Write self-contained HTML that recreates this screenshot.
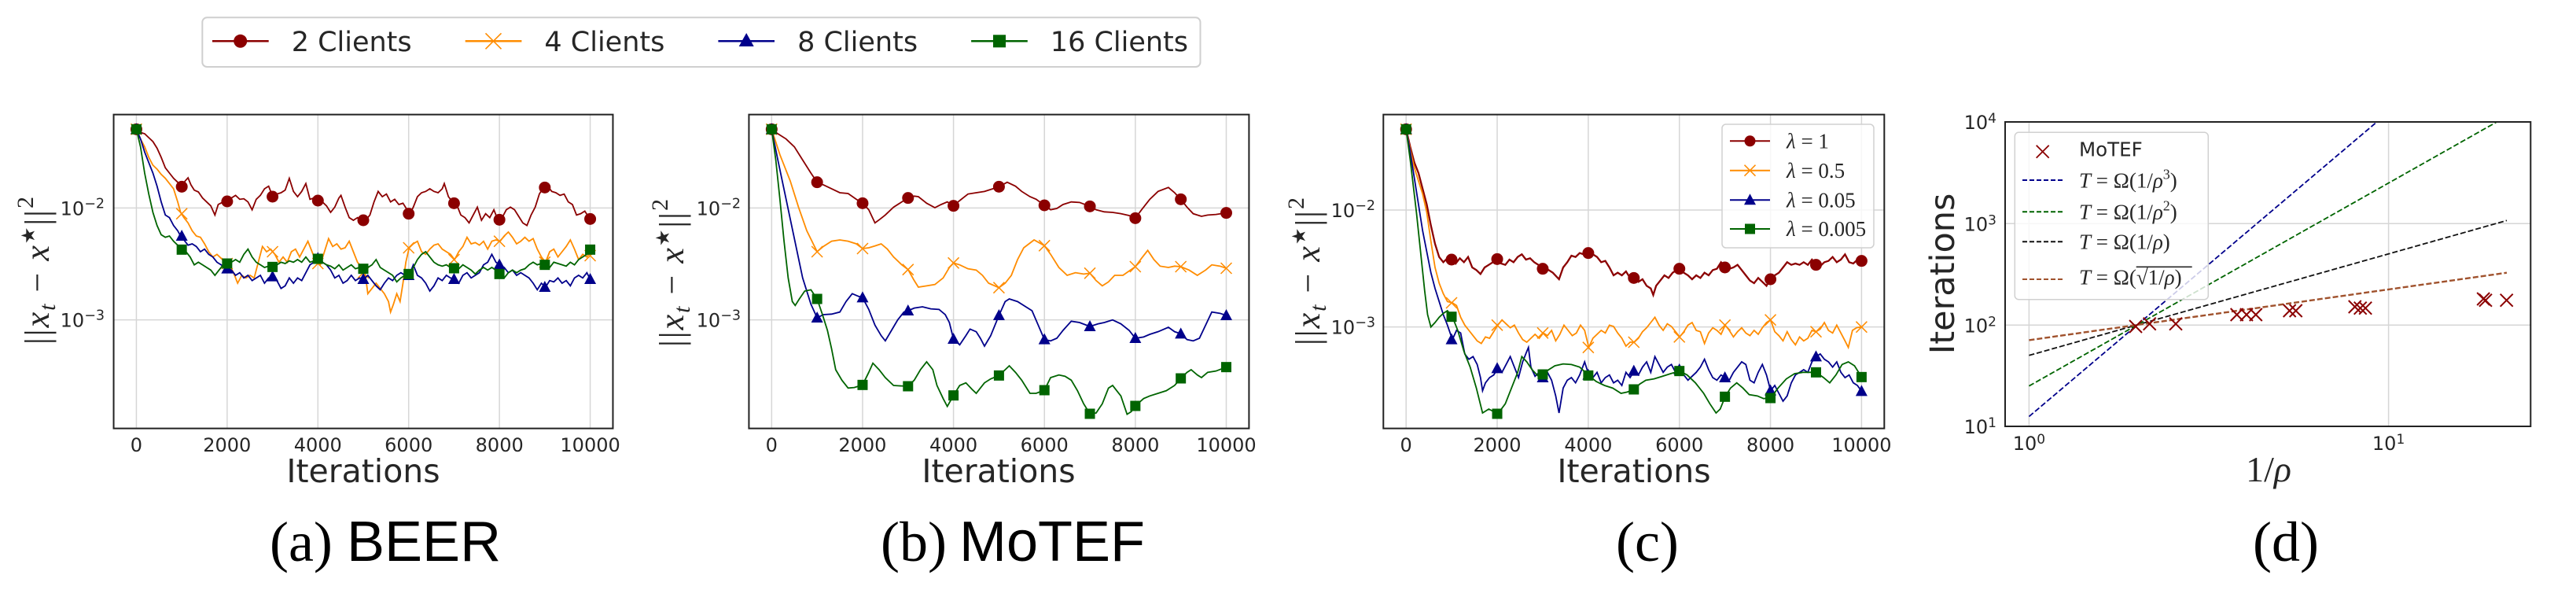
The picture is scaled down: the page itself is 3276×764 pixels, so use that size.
<!DOCTYPE html>
<html><head><meta charset="utf-8">
<style>
html,body{margin:0;padding:0;background:#fff;}
svg{display:block}
.nss polyline,.nss line,.nss rect,.nss path,.nss use{vector-effect:non-scaling-stroke}
.tk{font-family:"DejaVu Sans","Liberation Sans",sans-serif;font-size:24px;fill:#262626}
.lb{font-family:"DejaVu Sans","Liberation Sans",sans-serif;font-size:41px;fill:#262626}
.mt{font-family:"Liberation Serif","DejaVu Serif",serif;fill:#262626}
</style></head>
<body>
<svg width="3276" height="764" viewBox="0 0 3276 764" xmlns="http://www.w3.org/2000/svg">
<defs>
<ellipse id="mc" cx="0" cy="0" rx="14.27" ry="22.5"/>
<rect id="ms" x="-12.37" y="-19.5" width="24.73" height="39"/>
<path id="mt" d="M0,-24 L14.3,18 L-14.3,18Z"/>
<path id="mx" d="M-13.3,-21 L13.3,21 M-13.3,21 L13.3,-21" fill="none" style="vector-effect:non-scaling-stroke"/>
</defs>
<rect x="0" y="0" width="3276" height="764" fill="#fff"/>

<!-- TOP LEGEND -->
<rect x="257.3" y="22.3" width="1269.2" height="62.7" rx="6" fill="#fff" stroke="#cfcfcf" stroke-width="2"/>
<line x1="270" y1="52.3" x2="341.7" y2="52.3" stroke="#8B0000" stroke-width="2.5"/>
<circle cx="305.7" cy="52.3" r="8.5" fill="#8B0000"/>
<text x="370.7" y="65" font-family="DejaVu Sans, Liberation Sans, sans-serif" font-size="35" fill="#262626">2 Clients</text>
<line x1="591.7" y1="52.3" x2="663.4" y2="52.3" stroke="#FF8C00" stroke-width="2.5"/>
<path d="M617.5,42.3 L637.5,62.3 M617.5,62.3 L637.5,42.3" stroke="#FF8C00" stroke-width="1.6"/>
<text x="692.4" y="65" font-family="DejaVu Sans, Liberation Sans, sans-serif" font-size="35" fill="#262626">4 Clients</text>
<line x1="913.4" y1="52.3" x2="985" y2="52.3" stroke="#00008B" stroke-width="2.5"/>
<path d="M949.2,42 L958.7,59 L939.7,59Z" fill="#00008B"/>
<text x="1014.1" y="65" font-family="DejaVu Sans, Liberation Sans, sans-serif" font-size="35" fill="#262626">8 Clients</text>
<line x1="1235.1" y1="52.3" x2="1306.8" y2="52.3" stroke="#006400" stroke-width="2.5"/>
<rect x="1263" y="44.3" width="16" height="16" fill="#006400"/>
<text x="1335.8" y="65" font-family="DejaVu Sans, Liberation Sans, sans-serif" font-size="35" fill="#262626">16 Clients</text>

<!-- ================= PANEL A ================= -->
<g class="nss" transform="translate(0,120) scale(0.5256,0.33333)">
<g stroke="#d6d6d6" stroke-width="1.5">
<line x1="330" y1="77" x2="330" y2="1274"/><line x1="549.6" y1="77" x2="549.6" y2="1274"/><line x1="769.2" y1="77" x2="769.2" y2="1274"/><line x1="988.8" y1="77" x2="988.8" y2="1274"/><line x1="1208.4" y1="77" x2="1208.4" y2="1274"/><line x1="1428" y1="77" x2="1428" y2="1274"/>
<line x1="275" y1="433" x2="1483" y2="433"/><line x1="275" y1="860" x2="1483" y2="860"/>
</g>
<polyline fill="none" stroke="#8B0000" stroke-width="1.8" points="330,133 340,145 350,150 360,165 370,180 380,205 390,240 400,280 410,300 420,320 430,335 440,352 448,330 455,318 462,345 470,365 480,372 490,395 500,410 510,425 520,460 528,420 540,410 550,408 560,395 570,385 580,400 590,398 600,410 610,440 620,400 630,385 640,360 650,350 660,390 670,380 680,375 690,365 700,320 710,370 720,390 730,370 740,340 750,400 760,395 770,405 780,410 790,425 800,450 810,430 820,395 825,385 835,430 845,470 855,480 865,470 875,490 885,480 895,460 905,410 915,370 925,390 935,380 945,410 955,400 965,420 975,415 985,440 992,455 1000,430 1010,390 1020,375 1030,370 1040,360 1050,370 1060,375 1070,360 1075,340 1085,390 1095,410 1105,420 1115,460 1125,470 1135,490 1145,460 1155,430 1165,480 1175,455 1185,470 1195,440 1205,480 1215,470 1225,440 1235,430 1245,440 1255,465 1265,490 1275,500 1285,460 1295,430 1305,380 1315,355 1325,350 1335,370 1345,375 1355,385 1365,380 1375,410 1385,420 1395,460 1405,455 1415,445 1425,470 1430,475"/>
<g fill="#8B0000"><use href="#mc" x="330" y="133"/><use href="#mc" x="439.8" y="352"/><use href="#mc" x="549.6" y="408"/><use href="#mc" x="659.4" y="390"/><use href="#mc" x="769.2" y="405"/><use href="#mc" x="879" y="480"/><use href="#mc" x="988.8" y="455"/><use href="#mc" x="1098.6" y="415"/><use href="#mc" x="1208.4" y="478"/><use href="#mc" x="1318.2" y="355"/><use href="#mc" x="1428" y="475"/></g>
<polyline fill="none" stroke="#FF8C00" stroke-width="1.8" points="330,133 340,170 350,200 360,240 370,270 380,285 390,305 400,320 410,340 420,360 430,410 437,450 445,470 455,490 465,520 475,540 485,545 495,570 505,600 515,620 525,610 535,625 545,640 555,650 565,680 575,720 585,690 595,700 605,690 615,700 625,640 635,580 645,600 655,590 665,610 675,640 685,620 695,640 705,600 715,590 725,620 735,590 745,560 755,600 765,640 775,650 785,600 795,550 805,580 815,570 825,590 835,585 845,560 855,600 865,640 875,660 885,700 890,760 900,740 910,720 920,740 930,760 940,790 945,830 952,800 960,760 968,790 975,720 982,640 990,585 1000,570 1010,560 1020,600 1030,610 1040,590 1050,575 1060,570 1070,590 1080,600 1090,610 1100,630 1110,600 1120,580 1130,545 1140,570 1150,565 1160,575 1170,560 1180,590 1190,560 1200,555 1210,560 1220,540 1230,525 1240,545 1250,570 1260,560 1270,545 1280,560 1290,550 1300,590 1310,620 1320,640 1330,600 1340,590 1350,620 1360,600 1370,580 1380,555 1390,590 1400,630 1410,610 1420,620 1430,600"/>
<g stroke="#FF8C00" stroke-width="1.5"><use href="#mx" x="330" y="133"/><use href="#mx" x="439.8" y="455"/><use href="#mx" x="549.6" y="645"/><use href="#mx" x="659.4" y="600"/><use href="#mx" x="769.2" y="645"/><use href="#mx" x="879" y="680"/><use href="#mx" x="988.8" y="585"/><use href="#mx" x="1098.6" y="630"/><use href="#mx" x="1208.4" y="560"/><use href="#mx" x="1318.2" y="640"/><use href="#mx" x="1428" y="615"/></g>
<polyline fill="none" stroke="#00008B" stroke-width="1.8" points="330,133 340,170 350,220 360,260 370,300 380,350 390,410 400,460 410,470 420,500 430,520 437,540 445,555 455,575 465,570 475,580 485,600 495,590 505,610 515,620 525,640 535,650 550,665 560,670 570,690 580,680 590,700 600,690 610,710 620,700 630,690 640,720 650,700 660,695 670,710 680,740 690,730 700,700 710,720 720,700 730,710 740,680 750,650 760,640 770,625 780,640 790,650 800,670 810,700 820,690 830,720 840,710 850,690 860,710 870,700 880,705 890,690 900,710 910,730 920,745 930,720 940,700 950,710 960,690 970,680 980,690 990,690 1000,650 1010,690 1020,700 1030,720 1040,750 1050,730 1060,700 1070,710 1080,690 1090,700 1100,705 1110,720 1120,690 1130,680 1140,700 1150,690 1160,680 1170,650 1180,640 1190,610 1200,640 1210,650 1220,660 1230,680 1240,670 1250,690 1260,680 1270,690 1280,700 1290,720 1300,745 1310,720 1320,735 1330,710 1340,715 1350,700 1360,720 1370,710 1380,730 1390,700 1400,690 1410,700 1420,680 1428,705"/>
<g fill="#00008B"><use href="#mt" x="330" y="133"/><use href="#mt" x="439.8" y="540"/><use href="#mt" x="549.6" y="665"/><use href="#mt" x="659.4" y="695"/><use href="#mt" x="769.2" y="625"/><use href="#mt" x="879" y="705"/><use href="#mt" x="988.8" y="690"/><use href="#mt" x="1098.6" y="705"/><use href="#mt" x="1208.4" y="650"/><use href="#mt" x="1318.2" y="735"/><use href="#mt" x="1428" y="705"/></g>
<polyline fill="none" stroke="#006400" stroke-width="1.8" points="330,133 340,200 350,300 360,380 370,450 380,500 390,535 400,545 410,540 420,560 430,575 438,592 450,600 460,620 470,650 480,640 490,650 500,660 510,670 520,690 530,670 540,650 550,645 560,640 570,630 580,640 590,610 600,590 610,620 620,640 630,650 640,660 650,655 660,658 670,650 680,640 690,645 700,635 710,640 720,630 730,640 740,620 750,640 760,635 770,627 780,640 790,650 800,655 810,665 820,650 830,670 840,660 850,650 860,665 870,660 880,665 890,660 900,650 910,630 920,660 930,670 940,680 950,690 960,715 970,700 980,690 990,685 1000,660 1010,630 1020,610 1030,600 1040,620 1050,640 1060,650 1070,655 1080,650 1090,660 1100,663 1110,665 1120,650 1130,660 1140,670 1150,685 1160,670 1170,660 1180,670 1190,660 1200,670 1210,685 1220,700 1230,680 1240,670 1250,680 1260,670 1270,665 1280,650 1290,640 1300,650 1310,645 1320,650 1330,660 1340,640 1350,645 1360,650 1370,655 1380,640 1390,650 1400,630 1410,620 1420,610 1430,592"/>
<g fill="#006400"><use href="#ms" x="330" y="133"/><use href="#ms" x="439.8" y="592"/><use href="#ms" x="549.6" y="645"/><use href="#ms" x="659.4" y="658"/><use href="#ms" x="769.2" y="627"/><use href="#ms" x="879" y="665"/><use href="#ms" x="988.8" y="685"/><use href="#ms" x="1098.6" y="663"/><use href="#ms" x="1208.4" y="685"/><use href="#ms" x="1318.2" y="650"/><use href="#ms" x="1428" y="592"/></g>
<rect x="275" y="77" width="1208" height="1197" fill="none" stroke="#222" stroke-width="2"/>
</g>
<g class="tk" text-anchor="middle">
<text x="173.4" y="574">0</text><text x="288.8" y="574">2000</text><text x="404.3" y="574">4000</text><text x="519.7" y="574">6000</text><text x="635.2" y="574">8000</text><text x="750.6" y="574">10000</text>
</g>
<g class="tk" text-anchor="end">
<text x="133" y="273.3">10<tspan font-size="17.5" dy="-9">−2</tspan></text>
<text x="133" y="415.7">10<tspan font-size="17.5" dy="-9">−3</tspan></text>
</g>
<text class="lb" x="462" y="613" text-anchor="middle">Iterations</text>
<text class="mt" transform="translate(62,343) rotate(-90)" text-anchor="middle" font-size="44" letter-spacing="2">||<tspan font-style="italic">x</tspan><tspan font-style="italic" font-size="30" dy="8">t</tspan><tspan dy="-8"> − </tspan><tspan font-style="italic">x</tspan><tspan font-size="24" dy="-18" font-family="DejaVu Sans, sans-serif">★</tspan><tspan dy="18">||</tspan><tspan font-size="30" dy="-20">2</tspan></text>

<!-- ================= PANEL B ================= -->
<g class="nss" transform="translate(800,120) scale(0.5256,0.33333)">
<g stroke="#d6d6d6" stroke-width="1.5">
<line x1="345" y1="77" x2="345" y2="1274"/><line x1="565" y1="77" x2="565" y2="1274"/><line x1="785" y1="77" x2="785" y2="1274"/><line x1="1005" y1="77" x2="1005" y2="1274"/><line x1="1225" y1="77" x2="1225" y2="1274"/><line x1="1445" y1="77" x2="1445" y2="1274"/>
<line x1="290" y1="433" x2="1500" y2="433"/><line x1="290" y1="860" x2="1500" y2="860"/>
</g>
<polyline fill="none" stroke="#8B0000" stroke-width="1.8" points="345,133 360,150 380,170 400,200 420,250 440,300 455,335 470,345 490,360 510,375 530,378 550,400 565,415 580,440 595,490 608,475 620,460 640,430 660,410 675,395 690,388 700,390 720,415 740,432 755,420 770,410 785,425 800,405 820,380 840,375 860,370 880,360 895,352 915,335 935,350 950,370 970,390 985,400 1005,423 1020,440 1035,435 1050,420 1070,410 1090,412 1115,427 1130,440 1150,448 1170,450 1190,455 1210,462 1225,472 1240,440 1260,400 1280,370 1305,355 1320,375 1335,400 1350,430 1365,455 1385,465 1400,460 1420,458 1445,452"/>
<g fill="#8B0000"><use href="#mc" x="345" y="133"/><use href="#mc" x="455" y="335"/><use href="#mc" x="565" y="415"/><use href="#mc" x="675" y="395"/><use href="#mc" x="785" y="425"/><use href="#mc" x="895" y="352"/><use href="#mc" x="1005" y="423"/><use href="#mc" x="1115" y="427"/><use href="#mc" x="1225" y="472"/><use href="#mc" x="1335" y="400"/><use href="#mc" x="1445" y="452"/></g>
<polyline fill="none" stroke="#FF8C00" stroke-width="1.8" points="345,133 365,230 390,330 410,430 430,520 455,600 470,580 490,560 510,555 530,560 550,570 565,588 580,585 595,578 610,570 625,590 640,620 660,650 675,668 690,710 700,735 720,730 740,725 760,700 775,660 785,643 800,650 820,665 840,670 855,690 870,720 895,737 910,720 925,690 940,630 955,585 980,555 1005,577 1020,610 1040,660 1060,690 1080,680 1100,685 1115,682 1130,710 1145,730 1160,715 1175,690 1195,690 1225,657 1240,625 1255,595 1270,630 1285,655 1305,660 1320,655 1335,657 1355,670 1375,690 1395,670 1410,650 1430,655 1445,663"/>
<g stroke="#FF8C00" stroke-width="1.5"><use href="#mx" x="345" y="133"/><use href="#mx" x="455" y="600"/><use href="#mx" x="565" y="588"/><use href="#mx" x="675" y="668"/><use href="#mx" x="785" y="643"/><use href="#mx" x="895" y="737"/><use href="#mx" x="1005" y="577"/><use href="#mx" x="1115" y="682"/><use href="#mx" x="1225" y="657"/><use href="#mx" x="1335" y="657"/><use href="#mx" x="1445" y="663"/></g>
<polyline fill="none" stroke="#00008B" stroke-width="1.8" points="345,133 360,250 380,400 400,550 420,700 440,800 455,852 470,840 490,838 510,830 525,790 540,760 555,770 565,775 580,820 595,880 610,920 620,940 635,900 650,860 665,830 675,825 690,815 710,810 730,818 750,820 765,840 775,870 785,933 800,955 815,920 825,895 840,905 850,930 860,960 875,920 895,843 910,790 920,780 940,790 960,810 975,825 990,880 1005,935 1020,940 1035,930 1050,900 1070,865 1090,870 1115,885 1135,875 1150,870 1170,860 1190,875 1210,900 1225,930 1245,925 1260,915 1280,905 1305,888 1320,905 1335,913 1350,935 1365,940 1380,930 1395,880 1410,830 1430,835 1445,843"/>
<g fill="#00008B"><use href="#mt" x="345" y="133"/><use href="#mt" x="455" y="852"/><use href="#mt" x="565" y="775"/><use href="#mt" x="675" y="825"/><use href="#mt" x="785" y="933"/><use href="#mt" x="895" y="843"/><use href="#mt" x="1005" y="935"/><use href="#mt" x="1115" y="885"/><use href="#mt" x="1225" y="930"/><use href="#mt" x="1335" y="913"/><use href="#mt" x="1445" y="843"/></g>
<polyline fill="none" stroke="#006400" stroke-width="1.8" points="345,133 355,250 365,400 375,560 385,700 395,790 402,805 412,780 425,750 440,745 455,780 468,840 480,900 490,970 500,1050 515,1090 530,1120 545,1118 565,1108 580,1060 590,1025 605,1050 620,1080 640,1110 660,1112 675,1113 690,1090 705,1050 720,1020 735,1050 745,1110 760,1160 770,1190 785,1148 800,1110 815,1100 830,1125 840,1140 850,1120 860,1100 875,1085 895,1072 910,1050 920,1035 935,1060 950,1090 970,1140 985,1140 1005,1128 1020,1080 1040,1070 1055,1075 1070,1090 1085,1130 1100,1180 1115,1218 1130,1215 1145,1180 1160,1120 1170,1110 1180,1130 1190,1150 1205,1220 1215,1210 1225,1188 1245,1160 1260,1150 1280,1140 1300,1130 1320,1110 1335,1083 1350,1060 1360,1050 1375,1070 1385,1080 1400,1060 1420,1055 1445,1040"/>
<g fill="#006400"><use href="#ms" x="345" y="133"/><use href="#ms" x="455" y="780"/><use href="#ms" x="565" y="1108"/><use href="#ms" x="675" y="1113"/><use href="#ms" x="785" y="1148"/><use href="#ms" x="895" y="1072"/><use href="#ms" x="1005" y="1128"/><use href="#ms" x="1115" y="1218"/><use href="#ms" x="1225" y="1188"/><use href="#ms" x="1335" y="1083"/><use href="#ms" x="1445" y="1040"/></g>
<rect x="290" y="77" width="1210" height="1197" fill="none" stroke="#222" stroke-width="2"/>
</g>
<g class="tk" text-anchor="middle">
<text x="981.3" y="574">0</text><text x="1096.9" y="574">2000</text><text x="1212.6" y="574">4000</text><text x="1328.2" y="574">6000</text><text x="1443.9" y="574">8000</text><text x="1559.5" y="574">10000</text>
</g>
<g class="tk" text-anchor="end">
<text x="942" y="273.3">10<tspan font-size="17.5" dy="-9">−2</tspan></text>
<text x="942" y="415.7">10<tspan font-size="17.5" dy="-9">−3</tspan></text>
</g>
<text class="lb" x="1270" y="613" text-anchor="middle">Iterations</text>
<text class="mt" transform="translate(869,346) rotate(-90)" text-anchor="middle" font-size="44" letter-spacing="2">||<tspan font-style="italic">x</tspan><tspan font-style="italic" font-size="30" dy="8">t</tspan><tspan dy="-8"> − </tspan><tspan font-style="italic">x</tspan><tspan font-size="24" dy="-18" font-family="DejaVu Sans, sans-serif">★</tspan><tspan dy="18">||</tspan><tspan font-size="30" dy="-20">2</tspan></text>

<!-- ================= PANEL C ================= -->
<g class="nss" transform="translate(1620,120) scale(0.5256,0.33333)">
<g stroke="#d6d6d6" stroke-width="1.5">
<line x1="320" y1="77" x2="320" y2="1274"/><line x1="540.4" y1="77" x2="540.4" y2="1274"/><line x1="760.8" y1="77" x2="760.8" y2="1274"/><line x1="981.2" y1="77" x2="981.2" y2="1274"/><line x1="1201.6" y1="77" x2="1201.6" y2="1274"/><line x1="1422" y1="77" x2="1422" y2="1274"/>
<line x1="265" y1="441" x2="1477" y2="441"/><line x1="265" y1="887" x2="1477" y2="887"/>
</g>
<polyline fill="none" stroke="#8B0000" stroke-width="2.3" points="320,133 330,200 340,260 350,300 360,360 370,420 380,500 390,570 400,620 410,640 420,625 432,630 440,645 450,625 460,640 470,620 480,660 490,670 500,685 510,660 520,650 530,640 540,628 550,645 560,650 570,630 580,640 590,620 600,610 610,630 620,625 630,640 640,650 653,665 665,670 675,680 690,705 700,660 710,640 720,615 730,620 740,605 750,610 762,600 772,610 782,620 792,640 802,635 812,660 822,690 832,680 842,690 852,675 862,700 872,700 882,715 892,705 902,730 912,740 918,765 925,730 935,710 945,690 955,700 965,680 975,670 982,665 992,680 1002,690 1012,705 1022,690 1032,700 1042,680 1052,690 1062,670 1072,665 1082,640 1092,660 1102,665 1112,660 1122,650 1132,670 1142,690 1152,710 1162,720 1172,700 1182,715 1192,730 1202,700 1212,690 1222,680 1232,660 1242,640 1252,650 1262,645 1272,650 1282,640 1292,650 1302,630 1312,650 1322,655 1332,640 1342,635 1352,620 1362,640 1372,630 1382,610 1392,640 1402,645 1412,630 1422,635"/>
<g fill="#8B0000"><use href="#mc" x="320" y="133"/><use href="#mc" x="430" y="630"/><use href="#mc" x="540.4" y="628"/><use href="#mc" x="650.6" y="665"/><use href="#mc" x="760.8" y="605"/><use href="#mc" x="871" y="700"/><use href="#mc" x="981.2" y="665"/><use href="#mc" x="1091.4" y="660"/><use href="#mc" x="1201.6" y="705"/><use href="#mc" x="1311.8" y="650"/><use href="#mc" x="1422" y="635"/></g>
<polyline fill="none" stroke="#FF8C00" stroke-width="1.8" points="320,133 330,210 340,280 350,330 360,380 370,450 380,560 390,660 400,720 410,760 420,790 432,795 442,805 452,850 462,880 472,900 482,920 492,940 502,950 512,925 522,930 532,905 542,880 552,860 562,875 572,890 582,880 592,910 602,935 612,945 622,930 632,915 642,930 652,910 662,920 672,900 682,940 692,915 702,880 712,900 722,920 732,910 742,880 752,900 762,965 772,930 782,915 792,900 802,910 812,880 822,885 832,910 842,930 852,960 862,945 872,945 882,930 892,905 902,890 912,870 922,850 932,880 942,900 952,875 962,885 972,905 982,925 992,905 1002,880 1012,870 1022,900 1032,905 1042,950 1052,910 1062,890 1072,900 1082,915 1092,880 1102,900 1112,925 1122,905 1132,890 1142,910 1152,920 1162,900 1172,915 1182,890 1192,870 1202,860 1212,905 1222,920 1232,940 1242,905 1252,935 1262,955 1272,925 1282,940 1292,930 1302,900 1312,905 1322,895 1332,870 1342,900 1352,910 1362,880 1372,910 1382,940 1390,965 1400,900 1410,890 1422,887"/>
<g stroke="#FF8C00" stroke-width="1.5"><use href="#mx" x="320" y="133"/><use href="#mx" x="430" y="795"/><use href="#mx" x="540.4" y="880"/><use href="#mx" x="650.6" y="910"/><use href="#mx" x="760.8" y="965"/><use href="#mx" x="871" y="945"/><use href="#mx" x="981.2" y="925"/><use href="#mx" x="1091.4" y="880"/><use href="#mx" x="1201.6" y="860"/><use href="#mx" x="1311.8" y="905"/><use href="#mx" x="1422" y="887"/></g>
<polyline fill="none" stroke="#00008B" stroke-width="1.8" points="320,133 330,220 340,320 350,420 360,520 370,600 380,680 390,740 400,790 410,840 420,880 432,935 442,900 452,910 462,990 472,1010 482,1000 492,1030 500,1080 505,1130 512,1100 522,1080 532,1070 542,1045 552,1060 562,1030 572,1000 582,1040 592,1080 602,1020 612,980 616,965 622,1040 632,1075 642,1060 652,1080 662,1060 672,1090 682,1150 690,1215 700,1120 710,1090 720,1080 730,1100 740,1070 752,1020 762,1070 772,1080 782,1060 792,1100 802,1080 812,1070 822,1100 832,1090 842,1110 852,1060 862,1080 872,1055 882,1070 892,1040 902,1020 912,1060 922,1000 932,1030 942,1060 952,1040 962,1030 972,1060 982,1050 992,1070 1002,1090 1012,1075 1022,1060 1032,1040 1042,1010 1052,1050 1062,1080 1072,1090 1082,1070 1092,1080 1102,1090 1112,1060 1122,1040 1132,1020 1142,1030 1152,1090 1162,1100 1172,1060 1182,1030 1192,1070 1202,1130 1212,1110 1222,1140 1232,1170 1242,1150 1252,1100 1262,1070 1272,1060 1282,1050 1292,1060 1302,1020 1312,1000 1322,990 1332,1010 1342,1020 1352,1040 1362,1020 1372,1060 1382,1080 1392,1070 1402,1100 1412,1110 1422,1132"/>
<g fill="#00008B"><use href="#mt" x="320" y="133"/><use href="#mt" x="430" y="935"/><use href="#mt" x="540.4" y="1045"/><use href="#mt" x="650.6" y="1080"/><use href="#mt" x="760.8" y="1070"/><use href="#mt" x="871" y="1055"/><use href="#mt" x="981.2" y="1050"/><use href="#mt" x="1091.4" y="1080"/><use href="#mt" x="1201.6" y="1130"/><use href="#mt" x="1311.8" y="1000"/><use href="#mt" x="1422" y="1132"/></g>
<polyline fill="none" stroke="#006400" stroke-width="1.8" points="320,133 330,250 345,450 355,600 365,750 372,840 380,887 390,870 400,850 410,835 420,825 432,848 445,900 460,980 475,1040 490,1120 505,1215 520,1200 542,1218 560,1180 575,1120 590,1060 600,1000 612,1020 625,1050 640,1075 652,1068 665,1050 680,1035 700,1028 720,1030 740,1040 762,1072 780,1095 800,1110 820,1120 840,1140 855,1135 872,1125 885,1105 900,1090 920,1085 940,1075 960,1065 982,1055 1000,1070 1020,1100 1040,1140 1055,1180 1070,1215 1080,1200 1092,1153 1105,1120 1120,1100 1135,1120 1150,1145 1170,1150 1185,1160 1202,1158 1220,1120 1240,1085 1260,1065 1280,1060 1300,1060 1312,1060 1330,1080 1345,1100 1360,1070 1375,1030 1390,1020 1405,1035 1422,1078"/>
<g fill="#006400"><use href="#ms" x="320" y="133"/><use href="#ms" x="430" y="848"/><use href="#ms" x="540.4" y="1218"/><use href="#ms" x="650.6" y="1068"/><use href="#ms" x="760.8" y="1072"/><use href="#ms" x="871" y="1125"/><use href="#ms" x="981.2" y="1055"/><use href="#ms" x="1091.4" y="1153"/><use href="#ms" x="1201.6" y="1158"/><use href="#ms" x="1311.8" y="1060"/><use href="#ms" x="1422" y="1078"/></g>
<rect x="265" y="77" width="1212" height="1197" fill="none" stroke="#222" stroke-width="2"/>
</g>
<!-- legend c -->
<rect x="2190" y="158" width="193" height="157" rx="5" fill="#fff" fill-opacity="0.8" stroke="#d0d0d0" stroke-width="1.5"/>
<line x1="2200" y1="179.3" x2="2251" y2="179.3" stroke="#8B0000" stroke-width="2"/>
<circle cx="2225.5" cy="179.3" r="7" fill="#8B0000"/>
<line x1="2200" y1="216.7" x2="2251" y2="216.7" stroke="#FF8C00" stroke-width="2"/>
<path d="M2218.5,209.7 L2232.5,223.7 M2218.5,223.7 L2232.5,209.7" stroke="#FF8C00" stroke-width="1.5"/>
<line x1="2200" y1="254.3" x2="2251" y2="254.3" stroke="#00008B" stroke-width="2"/>
<path d="M2225.5,246.3 L2233,260.3 L2218,260.3Z" fill="#00008B"/>
<line x1="2200" y1="291" x2="2251" y2="291" stroke="#006400" stroke-width="2"/>
<rect x="2219" y="284.5" width="13" height="13" fill="#006400"/>
<g class="mt" font-size="27">
<text x="2272" y="188.3"><tspan font-style="italic">λ</tspan> = 1</text>
<text x="2272" y="226"><tspan font-style="italic">λ</tspan> = 0.5</text>
<text x="2272" y="263.5"><tspan font-style="italic">λ</tspan> = 0.05</text>
<text x="2272" y="300"><tspan font-style="italic">λ</tspan> = 0.005</text>
</g>
<g class="tk" text-anchor="middle">
<text x="1788.2" y="574">0</text><text x="1904" y="574">2000</text><text x="2019.9" y="574">4000</text><text x="2135.7" y="574">6000</text><text x="2251.6" y="574">8000</text><text x="2367.4" y="574">10000</text>
</g>
<g class="tk" text-anchor="end">
<text x="1749" y="276">10<tspan font-size="17.5" dy="-9">−2</tspan></text>
<text x="1749" y="424.7">10<tspan font-size="17.5" dy="-9">−3</tspan></text>
</g>
<text class="lb" x="2078" y="613" text-anchor="middle">Iterations</text>
<text class="mt" transform="translate(1678,344) rotate(-90)" text-anchor="middle" font-size="44" letter-spacing="2">||<tspan font-style="italic">x</tspan><tspan font-style="italic" font-size="30" dy="8">t</tspan><tspan dy="-8"> − </tspan><tspan font-style="italic">x</tspan><tspan font-size="24" dy="-18" font-family="DejaVu Sans, sans-serif">★</tspan><tspan dy="18">||</tspan><tspan font-size="30" dy="-20">2</tspan></text>

<!-- ================= PANEL D ================= -->
<g stroke="#d6d6d6" stroke-width="1.5">
<line x1="2580.4" y1="155" x2="2580.4" y2="542"/><line x1="3037.6" y1="155" x2="3037.6" y2="542"/>
<line x1="2550" y1="284.3" x2="3218.3" y2="284.3"/><line x1="2550" y1="413.3" x2="3218.3" y2="413.3"/>
</g>
<g fill="none" stroke-dasharray="7 3">
<line x1="2580.4" y1="529.5" x2="3022.8" y2="155" stroke="#00008B" stroke-width="1.8"/>
<line x1="2580.4" y1="490.7" x2="3175.3" y2="155" stroke="#006400" stroke-width="1.8"/>
<line x1="2580.4" y1="451.8" x2="3188" y2="280.3" stroke="#111" stroke-width="1.8"/>
<line x1="2580.4" y1="432.4" x2="3188" y2="346.7" stroke="#A0522D" stroke-width="2.4"/>
</g>
<path fill="none" stroke="#8B0000" stroke-width="2" d="M2708,407 L2724,423 M2708,423 L2724,407 M2725.7,403.7 L2741.7,419.7 M2725.7,419.7 L2741.7,403.7 M2759,403.7 L2775,419.7 M2759,419.7 L2775,403.7 M2836.7,392 L2852.7,408 M2836.7,408 L2852.7,392 M2849,392 L2865,408 M2849,408 L2865,392 M2860.8,392 L2876.8,408 M2860.8,408 L2876.8,392 M2903.7,387 L2919.7,403 M2903.7,403 L2919.7,387 M2911.7,387 L2927.7,403 M2911.7,403 L2927.7,387 M2986.8,382 L3002.8,398 M2986.8,398 L3002.8,382 M2993.7,383.7 L3009.7,399.7 M2993.7,399.7 L3009.7,383.7 M3000.2,383.7 L3016.2,399.7 M3000.2,399.7 L3016.2,383.7 M3150.2,372 L3166.2,388 M3150.2,388 L3166.2,372 M3153,373.7 L3169,389.7 M3153,389.7 L3169,373.7 M3179.7,373.7 L3195.7,389.7 M3179.7,389.7 L3195.7,373.7"/>
<rect x="2550" y="155" width="668.3" height="387" fill="none" stroke="#222" stroke-width="2"/>
<!-- legend d -->
<rect x="2562.3" y="168.3" width="246" height="212.4" rx="5" fill="#fff" fill-opacity="0.8" stroke="#d0d0d0" stroke-width="1.5"/>
<path d="M2589.7,184.7 L2605.7,200.7 M2589.7,200.7 L2605.7,184.7" stroke="#8B0000" stroke-width="1.8" fill="none"/>
<text x="2644" y="198.3" font-family="DejaVu Sans, Liberation Sans, sans-serif" font-size="24.5" fill="#262626">MoTEF</text>
<g stroke-dasharray="6 3" stroke-width="2">
<line x1="2572" y1="229" x2="2623" y2="229" stroke="#00008B"/>
<line x1="2572" y1="269.3" x2="2623" y2="269.3" stroke="#006400"/>
<line x1="2572" y1="307.3" x2="2623" y2="307.3" stroke="#111"/>
<line x1="2572" y1="355" x2="2623" y2="355" stroke="#A0522D"/>
</g>
<g class="mt" font-size="27">
<text x="2644" y="238.3"><tspan font-style="italic">T</tspan> = Ω(1/<tspan font-style="italic">ρ</tspan><tspan font-size="18" dy="-11">3</tspan><tspan dy="11">)</tspan></text>
<text x="2644" y="278.3"><tspan font-style="italic">T</tspan> = Ω(1/<tspan font-style="italic">ρ</tspan><tspan font-size="18" dy="-11">2</tspan><tspan dy="11">)</tspan></text>
<text x="2644" y="316.7"><tspan font-style="italic">T</tspan> = Ω(1/<tspan font-style="italic">ρ</tspan>)</text>
<text x="2644" y="361.7"><tspan font-style="italic">T</tspan> = Ω(√1/<tspan font-style="italic">ρ</tspan>)</text>
</g>
<line x1="2716.7" y1="339.3" x2="2787.7" y2="339.3" stroke="#262626" stroke-width="1.6"/>
<g class="tk">
<text x="2539" y="164" text-anchor="end">10<tspan font-size="17" dy="-8">4</tspan></text>
<text x="2539" y="293.3" text-anchor="end">10<tspan font-size="17" dy="-8">3</tspan></text>
<text x="2539" y="422.3" text-anchor="end">10<tspan font-size="17" dy="-8">2</tspan></text>
<text x="2539" y="551" text-anchor="end">10<tspan font-size="17" dy="-8">1</tspan></text>
<text x="2580.4" y="572" text-anchor="middle">10<tspan font-size="17" dy="-8">0</tspan></text>
<text x="3037.6" y="572" text-anchor="middle">10<tspan font-size="17" dy="-8">1</tspan></text>
</g>
<text class="mt" x="2885" y="612" text-anchor="middle" font-size="46">1/<tspan font-style="italic">ρ</tspan></text>
<text x="0" y="0" transform="translate(2485,348) rotate(-90)" text-anchor="middle" font-family="DejaVu Sans, Liberation Sans, sans-serif" font-size="43" fill="#262626">Iterations</text>

<!-- CAPTIONS -->
<g font-size="72" fill="#000">
<text y="713"><tspan x="343" font-family="Liberation Serif, serif">(a)</tspan><tspan x="441" font-family="Liberation Sans, sans-serif">BEER</tspan></text>
<text y="713"><tspan x="1120" font-family="Liberation Serif, serif">(b)</tspan><tspan x="1220" font-family="Liberation Sans, sans-serif">MoTEF</tspan></text>
<text x="2055" y="713" font-family="Liberation Serif, serif">(c)</text>
<text x="2865" y="713" font-family="Liberation Serif, serif">(d)</text>
</g>
</svg>
</body></html>
